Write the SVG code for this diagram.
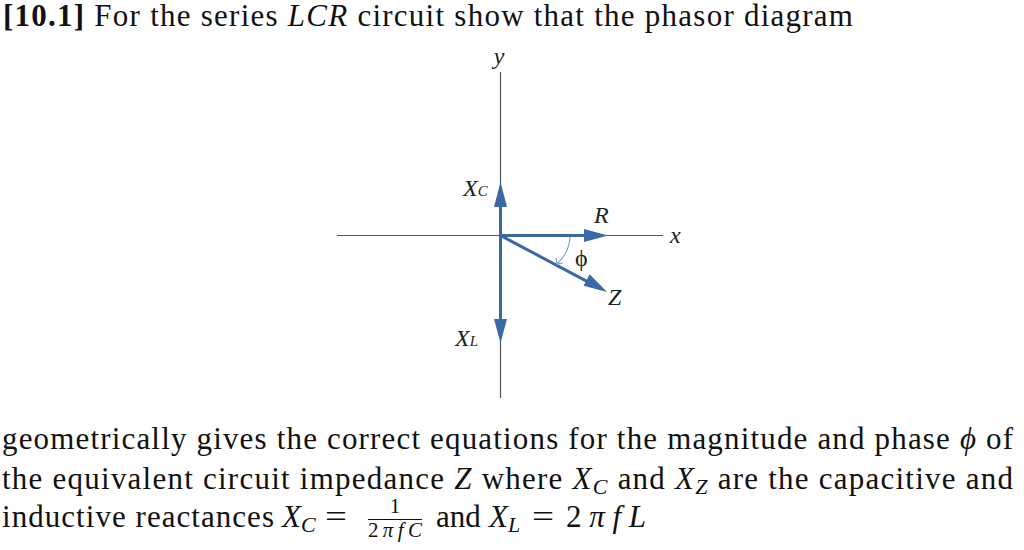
<svg xmlns="http://www.w3.org/2000/svg" width="1024" height="550" viewBox="0 0 1024 550">
<style>
.t{font-family:"Liberation Serif","Times New Roman",serif;font-size:31px;fill:#111}
.i{font-style:italic}
.b{font-weight:bold}
.sub{font-size:22px}
.fr{font-size:21px}
.lbl{font-family:"Liberation Serif","Times New Roman",serif;font-style:italic;font-size:24px;fill:#222}
.lsub{font-size:15px}
.axis{stroke:#555;stroke-width:1.2;fill:none}
.vec{stroke:#3a69a6;stroke-width:3;fill:none}
.head{fill:#3a69a6}
.arc{stroke:#7a9ccc;stroke-width:1.1;fill:none}
</style>
<rect width="1024" height="550" fill="#fff"/>

<g id="title">
<text class="t" x="3" y="26" textLength="850" lengthAdjust="spacing"><tspan class="b">[10.1]</tspan> For the series <tspan class="i">LCR</tspan> circuit show that the phasor diagram</text>
</g>

<g id="axes">
<line class="axis" x1="500.5" y1="72" x2="500.5" y2="398"/>
<line class="axis" x1="337" y1="235.5" x2="663" y2="235.5"/>
<text class="lbl" x="499" y="64" text-anchor="middle">y</text>
<text class="lbl" x="670" y="243">x</text>
</g>

<g id="connectors">
<line class="vec" x1="500.5" y1="235.5" x2="500.5" y2="205"/>
<polygon class="head" points="500.5,182 494,207 507,207"/>
<line class="vec" x1="500.5" y1="235.5" x2="586" y2="235.5"/>
<polygon class="head" points="608,235.5 584,229 584,242"/>
<line class="vec" x1="500.5" y1="235.5" x2="587" y2="281.4"/>
<polygon class="head" points="607,292 583.6,285.8 589.7,274.3"/>
<line class="vec" x1="500.5" y1="235.5" x2="500.5" y2="321"/>
<polygon class="head" points="500.5,343 494,319 507,319"/>
<path class="arc" d="M570,237 Q569,253 557,264"/>
<path class="arc" d="M556,258 L557,264 L563,263"/>
</g>

<g id="label-xc"><text class="lbl" x="463" y="196">X<tspan class="lsub">C</tspan></text></g>
<g id="label-r"><text class="lbl" x="594" y="223">R</text></g>
<g id="label-phi"><text class="lbl" x="575" y="266" style="font-style:normal">ϕ</text></g>
<g id="label-z"><text class="lbl" x="608" y="305">Z</text></g>
<g id="label-xl"><text class="lbl" x="455" y="346">X<tspan class="lsub">L</tspan></text></g>

<g id="body">
<text class="t" x="2" y="449" textLength="1011" lengthAdjust="spacing">geometrically gives the correct equations for the magnitude and phase <tspan class="i">ϕ</tspan> of</text>
<text class="t" x="2" y="489" textLength="1011" lengthAdjust="spacing">the equivalent circuit impedance <tspan class="i">Z</tspan> where <tspan class="i">X</tspan><tspan class="i sub" dy="5">C</tspan><tspan dy="-5"> and </tspan><tspan class="i">X</tspan><tspan class="i sub" dy="5">Z</tspan><tspan dy="-5"> are the capacitive and</tspan></text>
<text class="t" x="2" y="527" textLength="272" lengthAdjust="spacing">inductive reactances</text>
<text class="t i" x="282" y="527">X<tspan class="sub" dy="5">C</tspan></text>
<text class="t" x="325" y="527" textLength="22" lengthAdjust="spacingAndGlyphs">=</text>
<text class="t fr" x="395" y="513" text-anchor="middle">1</text>
<line x1="368" y1="519.5" x2="422" y2="519.5" stroke="#111" stroke-width="1.1"/>
<text class="t fr" x="368" y="537" textLength="54" lengthAdjust="spacing">2<tspan class="i">πfC</tspan></text>
<text class="t" x="436" y="527">and</text>
<text class="t i" x="489" y="527">X<tspan class="sub" dy="5">L</tspan></text>
<text class="t" x="532" y="527" textLength="22" lengthAdjust="spacingAndGlyphs">=</text>
<text class="t" x="566" y="527" textLength="80" lengthAdjust="spacing">2<tspan class="i">πfL</tspan></text>
</g>
</svg>
